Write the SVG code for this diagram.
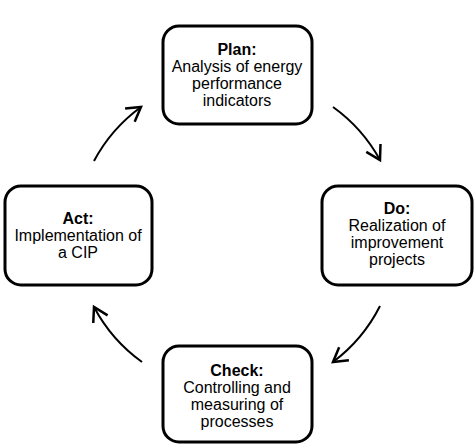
<svg xmlns="http://www.w3.org/2000/svg" width="474" height="445" viewBox="0 0 474 445">
<style>
.box{fill:#fff;stroke:#000;stroke-width:3}
text{font-family:"Liberation Sans",Arial,sans-serif;font-size:16px;fill:#000;text-anchor:middle}
.b{font-weight:bold}
.arc{fill:none;stroke:#000;stroke-width:2}
</style>
<defs>
<marker id="ah" markerUnits="userSpaceOnUse" markerWidth="20" markerHeight="20" viewBox="-12 -8 14 16" refX="0" refY="0" orient="auto">
<path d="M -11 -6.5 L 0 0 L -11 6.5" fill="none" stroke="#000" stroke-width="2"/>
</marker>
</defs>
<rect width="474" height="445" fill="#fff"/>
<g id="connectors">
<path class="arc" d="M 333 107 A 160 160 0 0 1 380 160" marker-end="url(#ah)"/>
<path class="arc" d="M 380 306 A 160 160 0 0 1 333 362" marker-end="url(#ah)"/>
<path class="arc" d="M 142 362 A 160 160 0 0 1 94 307" marker-end="url(#ah)"/>
<path class="arc" d="M 94 161 A 160 160 0 0 1 141 107" marker-end="url(#ah)"/>
</g>
<g id="plan">
<rect class="box" x="163" y="26" width="149" height="98" rx="16"/>
<text x="237" y="55" class="b">Plan:</text>
<text x="237" y="72">Analysis of energy</text>
<text x="237" y="89">performance</text>
<text x="237" y="106">indicators</text>
</g>
<g id="do">
<rect class="box" x="322" y="186" width="150" height="99" rx="16"/>
<text x="397" y="214" class="b">Do:</text>
<text x="397" y="231">Realization of</text>
<text x="397" y="248">improvement</text>
<text x="397" y="265">projects</text>
</g>
<g id="check">
<rect class="box" x="163" y="346" width="149" height="96" rx="16"/>
<text x="237" y="376" class="b">Check:</text>
<text x="237" y="393">Controlling and</text>
<text x="237" y="410">measuring of</text>
<text x="237" y="427">processes</text>
</g>
<g id="act">
<rect class="box" x="5" y="186" width="147" height="99" rx="16"/>
<text x="78" y="224" class="b">Act:</text>
<text x="78" y="241">Implementation of</text>
<text x="78" y="258">a CIP</text>
</g>
</svg>
